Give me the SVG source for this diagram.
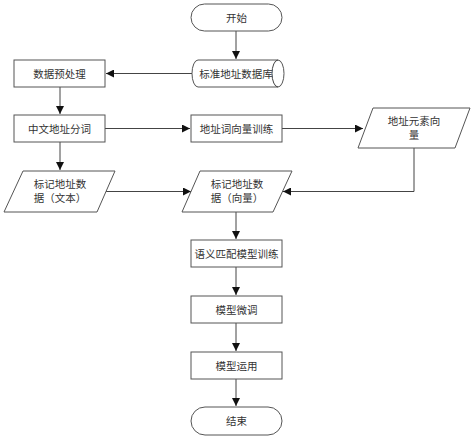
<svg xmlns="http://www.w3.org/2000/svg" width="474" height="439" viewBox="0 0 474 439">
<defs>
<marker id="ah" viewBox="0 0 10 10" refX="10" refY="5" markerWidth="8" markerHeight="8" markerUnits="userSpaceOnUse" orient="auto">
<path d="M0,0 L10,5 L0,10 Z" fill="#111"/>
</marker>
</defs>
<style>
.s{fill:#fff;stroke:#555;stroke-width:1}
.t{font-family:"Noto Sans CJK SC","Noto Sans",sans-serif;font-size:10.5px;fill:#333;text-anchor:middle}
.c{fill:none;stroke:#444;stroke-width:1;marker-end:url(#ah)}
.l{fill:none;stroke:#444;stroke-width:1}
</style>
<rect width="474" height="439" fill="#fff"/>
<g id="connectors">
<path class="c" d="M236,31 V59"/>
<path class="c" d="M192,73.5 H106"/>
<path class="c" d="M60,87 V114"/>
<path class="c" d="M105,128.5 H190"/>
<path class="c" d="M282,128.5 H363"/>
<path class="c" d="M60,142 V170"/>
<path class="c" d="M106,191.5 H191"/>
<path class="c" d="M414,148 V191.5 H283"/>
<path class="c" d="M236,212 V239"/>
<path class="c" d="M236,267 V295"/>
<path class="c" d="M236,323 V351"/>
<path class="c" d="M236,379 V406"/>
</g>
<g id="start">
<rect class="s" x="191" y="4" width="91" height="27" rx="13.5"/>
<text class="t" x="236.5" y="21.5">开始</text>
</g>
<g id="db">
<path class="s" d="M198,60 H278 A6,13.5 0 0 1 278,87 H198 A6,13.5 0 0 1 198,60 Z"/>
<path class="l" d="M278,60 A6,13.5 0 0 0 278,87"/>
<text class="t" x="236" y="77.5">标准地址数据库</text>
</g>
<g id="preprocess">
<rect class="s" x="14" y="60" width="91" height="27"/>
<text class="t" x="59.5" y="77.5">数据预处理</text>
</g>
<g id="segment">
<rect class="s" x="14" y="115" width="91" height="27"/>
<text class="t" x="59.5" y="132.5">中文地址分词</text>
</g>
<g id="w2v">
<rect class="s" x="191" y="115" width="91" height="27"/>
<text class="t" x="236.5" y="132.5">地址词向量训练</text>
</g>
<g id="elemvec">
<path class="s" d="M373,108 H470 L455,148 H358 Z"/>
<text class="t" x="414" y="125">地址元素向</text>
<text class="t" x="414" y="139">量</text>
</g>
<g id="labeltext">
<path class="s" d="M23,171 H115 L97,212 H4 Z"/>
<text class="t" x="60" y="188">标记地址数</text>
<text class="t" x="60" y="202">据（文本）</text>
</g>
<g id="labelvec">
<path class="s" d="M200,171 H292 L273,212 H182 Z"/>
<text class="t" x="237" y="188">标记地址数</text>
<text class="t" x="237" y="202">据（向量）</text>
</g>
<g id="train">
<rect class="s" x="191" y="240" width="91" height="27"/>
<text class="t" x="236.5" y="257.5">语义匹配模型训练</text>
</g>
<g id="finetune">
<rect class="s" x="191" y="296" width="91" height="27"/>
<text class="t" x="236.5" y="313.5">模型微调</text>
</g>
<g id="apply">
<rect class="s" x="191" y="352" width="91" height="27"/>
<text class="t" x="236.5" y="369.5">模型运用</text>
</g>
<g id="end">
<rect class="s" x="191" y="407" width="91" height="28" rx="14"/>
<text class="t" x="236.5" y="425">结束</text>
</g>
</svg>
